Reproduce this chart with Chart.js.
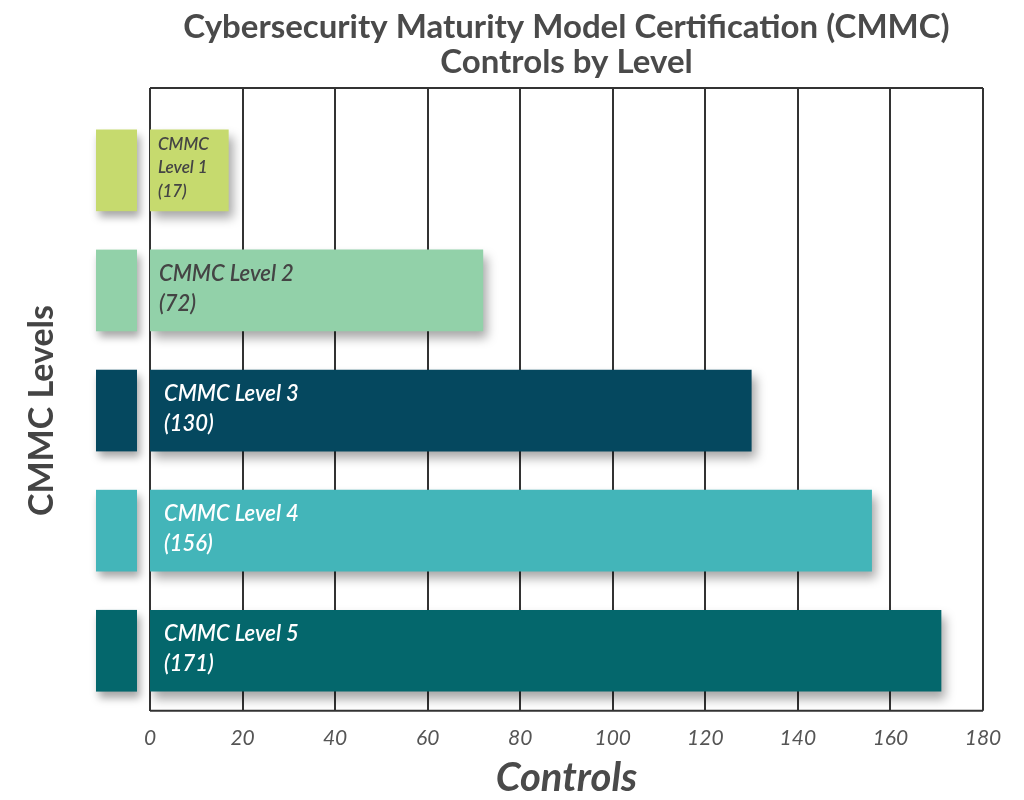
<!DOCTYPE html>
<html>
<head>
<meta charset="utf-8">
<script src="https://cdn.jsdelivr.net/npm/chart.js@4.4.1/dist/chart.umd.min.js"></script>
<style>
  html, body { margin: 0; padding: 0; background: #fff; }
  #wrap { width: 1024px; height: 800px; }
</style>
</head>
<body>
<div id="wrap"><canvas id="myChart" width="1024" height="800"></canvas></div>
<script>
const levels = ["CMMC Level 1", "CMMC Level 2", "CMMC Level 3", "CMMC Level 4", "CMMC Level 5"];
const controls = [17, 72, 130, 156, 171];
const barColors = ["#c6da6e", "#92d1a9", "#05485f", "#43b5b9", "#04676c"];
const textColors = ["#444444", "#444444", "#ffffff", "#ffffff", "#ffffff"];

const FONT = "Lato, 'Open Sans', sans-serif";

// sticky notes, shadows, frame, grid and bar labels
const notesPlugin = {
    id: 'notes',
    beforeDatasetsDraw(chart) {
        const ctx = chart.ctx;
        const area = chart.chartArea;
        const x = chart.scales.x;
        const top = 88;
        ctx.save();
        ctx.strokeStyle = '#333';
        ctx.lineWidth = 2;
        x.ticks.forEach(t => {
            const px = Math.round(x.getPixelForValue(t.value));
            ctx.beginPath();
            ctx.moveTo(px, top);
            ctx.lineTo(px, area.bottom);
            ctx.stroke();
        });
        ctx.beginPath();
        ctx.moveTo(area.left, top);
        ctx.lineTo(area.right, top);
        ctx.moveTo(area.left, area.bottom);
        ctx.lineTo(area.right, area.bottom);
        ctx.stroke();
        ctx.restore();

        // left sticky notes
        const meta = chart.getDatasetMeta(0);
        meta.data.forEach((bar, i) => {
            const h = bar.height;
            const y0 = bar.y - h / 2;
            ctx.save();
            ctx.shadowColor = 'rgba(0,0,0,0.35)';
            ctx.shadowBlur = 8;
            ctx.shadowOffsetX = 3;
            ctx.shadowOffsetY = 6;
            ctx.fillStyle = barColors[i];
            ctx.fillRect(area.left - 54, y0, 41, h);
            ctx.restore();
        });

        ctx.save();
        ctx.shadowColor = 'rgba(0,0,0,0.35)';
        ctx.shadowBlur = 10;
        ctx.shadowOffsetX = 4;
        ctx.shadowOffsetY = 7;
    },
    afterDatasetsDraw(chart) {
        const ctx = chart.ctx;
        ctx.restore();
        const meta = chart.getDatasetMeta(0);
        meta.data.forEach((bar, i) => {
            const left = bar.base;
            ctx.save();
            ctx.fillStyle = textColors[i];
            ctx.textBaseline = 'middle';
            ctx.textAlign = 'left';
            if (i === 0) {
                ctx.font = 'italic 600 17px ' + FONT;
                const lines = ['CMMC', levels[i].replace('CMMC ', ''), '(' + controls[i] + ')'];
                lines.forEach((s, k) => ctx.fillText(s, left + 8, bar.y - 26 + k * 23.5));
            } else {
                ctx.font = 'italic 600 22px ' + FONT;
                const dx = i === 1 ? 9 : 14;
                ctx.fillText(levels[i], left + dx, bar.y - 17);
                ctx.fillText('(' + controls[i] + ')', left + dx, bar.y + 13);
            }
            ctx.restore();
        });
    }
};

const data = {
    labels: levels,
    datasets: [{
        label: 'Controls',
        data: controls,
        backgroundColor: barColors,
        borderWidth: 0,
        barPercentage: 0.68,
        categoryPercentage: 1
    }]
};

const config = {
    type: 'bar',
    data,
    options: {
        indexAxis: 'y',
        responsive: false,
        animation: false,
        layout: { padding: { left: 22, right: 41, bottom: 0 } },
        scales: {
            x: {
                min: 0,
                max: 180,
                ticks: {
                    stepSize: 20,
                    color: '#555',
                    font: { family: FONT, size: 21, style: 'italic' },
                    padding: 7
                },
                grid: { display: false },
                border: { display: false },
                title: {
                    display: true,
                    text: 'Controls',
                    color: '#4a4a4a',
                    font: { family: FONT, size: 40, weight: 'bold', style: 'italic', lineHeight: 1.0 },
                    padding: { top: 0, bottom: 2 }
                }
            },
            y: {
                ticks: { display: false },
                grid: { display: false },
                border: { display: true, color: '#333', width: 2 },
                title: {
                    display: true,
                    text: 'CMMC Levels',
                    color: '#444',
                    font: { family: FONT, size: 34, weight: 'bold' },
                    padding: 0
                },
                afterFit(scale) { scale.width = 128; }
            }
        },
        plugins: {
            legend: { display: false },
            tooltip: { enabled: false },
            title: {
                display: true,
                fullSize: false,
                text: ['Cybersecurity Maturity Model Certification (CMMC)', 'Controls by Level'],
                color: '#4a4a4a',
                font: { family: FONT, size: 33, weight: 'bold', lineHeight: 1.05 },
                padding: { top: 10, bottom: 31 }
            }
        }
    },
    plugins: [notesPlugin]
};

const myChart = new Chart(document.getElementById('myChart'), config);
</script>
</body>
</html>
